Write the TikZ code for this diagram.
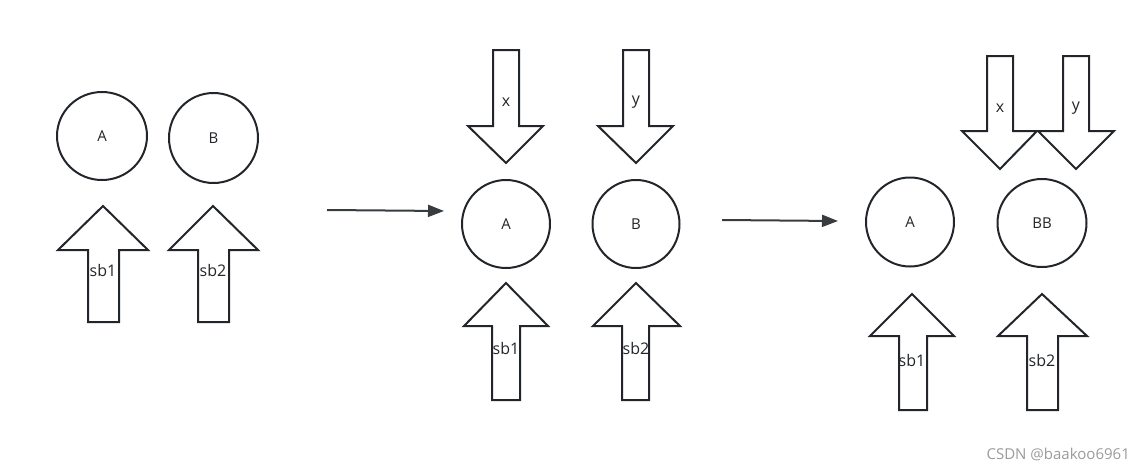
\documentclass[tikz,border=0pt]{standalone}
\usepackage{fontspec}
\setmainfont{Open Sans}
\usetikzlibrary{arrows.meta,shapes.geometric}
\definecolor{ink}{HTML}{22262A}
\definecolor{wm}{HTML}{9A9A9A}
\tikzset{
  circ/.style={draw=ink, line width=2pt, ellipse, inner sep=0pt, text=ink,
    font=\fontsize{15}{15}\selectfont},
  blk/.style={draw=ink, line width=2pt, line join=miter, fill=white},
  lbl/.style={text=ink, font=\fontsize{16}{16}\selectfont, inner sep=0pt},
  conn/.style={draw=ink!90, line width=2pt, -{Triangle[length=16pt,width=12pt]}},
}
% tipx tipy baseY headL headR shaftL shaftR end
\newcommand{\blockarrow}[8]{%
  \draw[blk] (#1,#2) -- (#5,#3) -- (#7,#3) -- (#7,#8) -- (#6,#8) -- (#6,#3) -- (#4,#3) -- cycle;}
\begin{document}
\begin{tikzpicture}[x=1pt,y=-1pt]
\useasboundingbox (0,0) rectangle (1144,471);
% ---- panel 1 ----
\node[circ, minimum width=90pt, minimum height=88pt] (p1A) at (102,136) {A};
\node[circ, minimum width=89pt, minimum height=90pt] (p1B) at (213.5,138) {B};
\blockarrow{103}{206}{250}{58}{148}{88}{119}{322}
\node[lbl] (p1sb1) at (103,270) {sb1};
\blockarrow{213}{206}{250}{169}{258}{198}{229}{322}
\node[lbl] (p1sb2) at (213,270) {sb2};
% ---- connector 1 ----
\coordinate (c1s) at (327,210);
\coordinate (c1e) at (444,211);
\draw[conn] (c1s) -- (c1e);
% ---- panel 2 ----
\blockarrow{506}{163}{126}{468}{543}{493}{519}{50}
\node[lbl] (p2x) at (506,102) {x};
\blockarrow{636}{163}{126}{598}{673}{623}{649}{50}
\node[lbl] (p2y) at (636,102) {y};
\node[circ, minimum width=88pt, minimum height=88pt] (p2A) at (506,224) {A};
\node[circ, minimum width=87pt, minimum height=88pt] (p2B) at (636,224) {B};
\blockarrow{506}{283}{326}{464}{548}{492}{520}{400}
\node[lbl] (p2sb1) at (506,348) {sb1};
\blockarrow{636}{283}{326}{593}{680}{622}{649}{400}
\node[lbl] (p2sb2) at (636,348) {sb2};
% ---- connector 2 ----
\coordinate (c2s) at (722,220);
\coordinate (c2e) at (838,221);
\draw[conn] (c2s) -- (c2e);
% ---- panel 3 ----
\blockarrow{1000}{169}{131}{962}{1037}{987}{1013}{56}
\node[lbl] (p3x) at (1000,108) {x};
\blockarrow{1076}{169}{131}{1038}{1114}{1063}{1089}{56}
\node[lbl] (p3y) at (1076,108) {y};
\node[circ, minimum width=88pt, minimum height=89pt] (p3A) at (910,222) {A};
\node[circ, minimum width=89pt, minimum height=88pt] (p3B) at (1042,223) {BB};
\blockarrow{912}{294}{336}{870}{954}{899}{927}{410}
\node[lbl] (p3sb1) at (912,360) {sb1};
\blockarrow{1042}{294}{336}{998}{1087}{1027}{1058}{410}
\node[lbl] (p3sb2) at (1042,360) {sb2};
% ---- watermark ----
\node[text=wm, font=\fontsize{15}{15}\selectfont, anchor=east, inner sep=0pt] (wm) at (1130,454) {CSDN @baakoo6961};
\end{tikzpicture}
\end{document}
